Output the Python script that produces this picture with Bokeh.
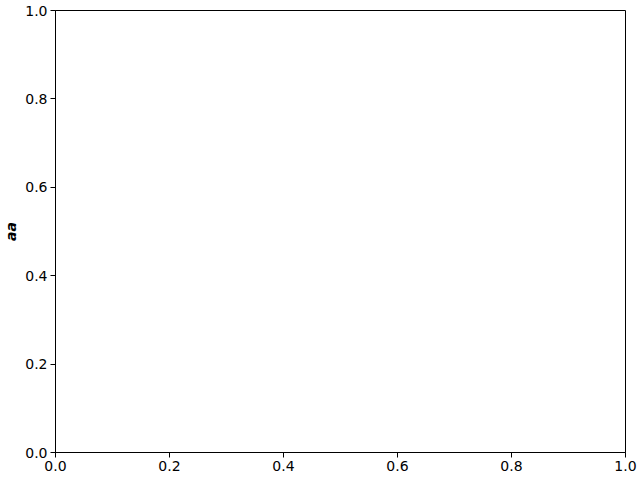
from bokeh.plotting import figure
from bokeh.models import FixedTicker, Range1d, NumeralTickFormatter
from bokeh.embed import file_html
from bokeh.resources import INLINE

x_ticks = [0.0, 0.2, 0.4, 0.6, 0.8, 1.0]
y_ticks = [0.0, 0.2, 0.4, 0.6, 0.8, 1.0]
y_label = "aa"

p = figure(width=640, height=480, output_backend="svg", toolbar_location=None,
           x_range=Range1d(0, 1), y_range=Range1d(0, 1),
           min_border_left=55, min_border_right=15, min_border_top=10, min_border_bottom=28)
p.background_fill_color = "white"
p.border_fill_color = "white"
p.outline_line_color = "black"
p.outline_line_width = 1
p.xgrid.visible = False
p.ygrid.visible = False

for ax in (p.xaxis[0], p.yaxis[0]):
    ax.ticker = FixedTicker(ticks=x_ticks)
    ax.formatter = NumeralTickFormatter(format="0.0")
    ax.major_label_text_font = "DejaVu Sans"
    ax.major_label_text_font_size = "14px"
    ax.major_label_text_color = "black"
    ax.major_tick_out = 5
    ax.major_tick_in = 0
    ax.minor_tick_out = 0
    ax.minor_tick_in = 0
    ax.axis_line_color = "black"
    ax.major_tick_line_color = "black"
    ax.major_label_standoff = 3

p.yaxis[0].ticker = FixedTicker(ticks=y_ticks)
p.yaxis[0].axis_label = y_label
p.yaxis[0].axis_label_text_font = "DejaVu Sans"
p.yaxis[0].axis_label_text_font_style = "bold italic"
p.yaxis[0].axis_label_text_font_size = "14px"
p.yaxis[0].axis_label_text_color = "black"
p.yaxis[0].axis_label_standoff = 3

open("out.html", "w").write(file_html(p, INLINE))
